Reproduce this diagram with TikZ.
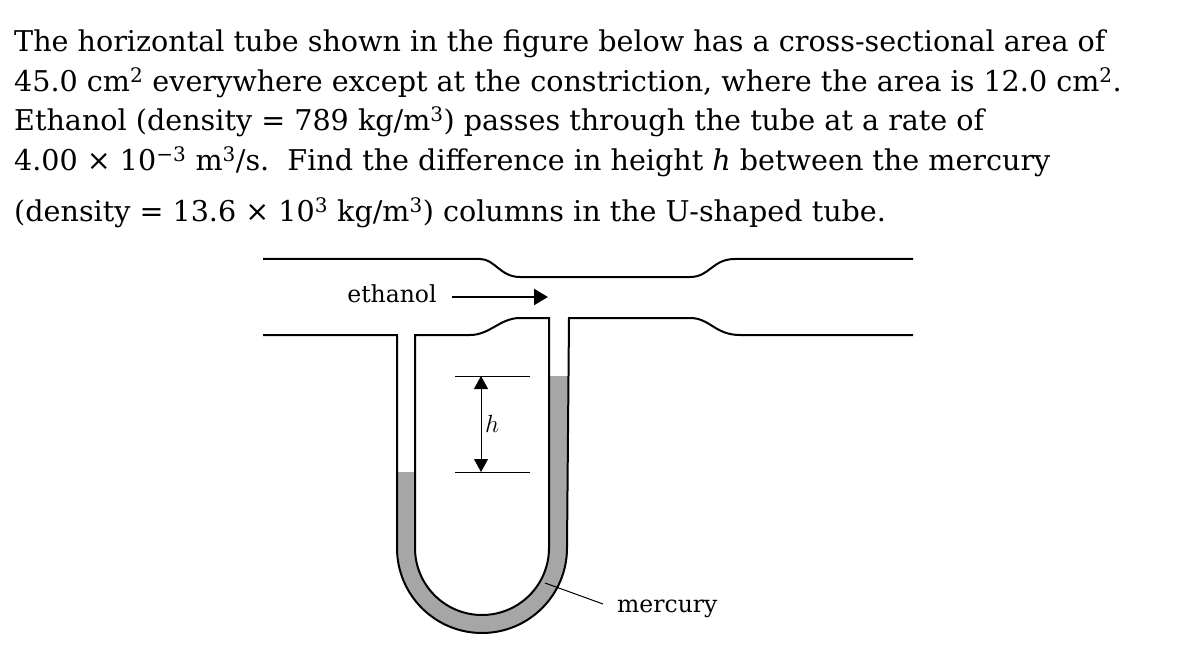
\documentclass[tikz,border=0pt]{standalone}
\usepackage{fontspec}
\setmainfont{DejaVu Serif}
\usetikzlibrary{arrows.meta}
\begin{document}
\begin{tikzpicture}[x=1pt,y=-1pt,
  txt/.style={anchor=base west,inner sep=0pt,font=\fontsize{28.6}{32}\selectfont},
  lbl/.style={inner sep=0pt,font=\fontsize{23.5}{27}\selectfont},
  wall/.style={line width=2pt},
  thin/.style={line width=1pt}]
\useasboundingbox (0,0) rectangle (1181,671);
\node[txt] (l1) at (14,52) {The horizontal tube shown in the figure below has a cross-sectional area of};
\node[txt] (l2) at (14,92) {45.0 cm\textsuperscript{2} everywhere except at the constriction, where the area is 12.0 cm\textsuperscript{2}.};
\node[txt] (l3) at (14,131) {Ethanol (density = 789 kg/m\textsuperscript{3}) passes through the tube at a rate of};
\node[txt] (l4) at (14,171) {4.00 × 10\textsuperscript{−3} m\textsuperscript{3}/s.\ \ Find the difference in height \textit{h} between the mercury};
\node[txt] (l5) at (14,222) {(density = 13.6 × 10\textsuperscript{3} kg/m\textsuperscript{3}) columns in the U-shaped tube.};
% mercury fill
\fill[gray!70] (397,472) -- (397,548) arc[start angle=180,end angle=0,radius=85] -- (569,376) -- (549,376) -- (549,548) arc[start angle=0,end angle=180,radius=67] -- (415,472) -- cycle;
% pipe
\draw[wall] (263,259) -- (480,259) .. controls (495,259) and (500,277) .. (520,277) -- (690,277) .. controls (710,277) and (712,259) .. (735,259) -- (913,259);
\draw[wall] (263,335) -- (397,335) -- (397,548) arc[start angle=180,end angle=0,radius=85] -- (569,318) -- (690,318) .. controls (710,318) and (715,335) .. (740,335) -- (913,335);
\draw[wall] (415,335) -- (470,335) .. controls (490,335) and (500,318) .. (520,318) -- (549,318) -- (549,548) arc[start angle=0,end angle=180,radius=67] -- cycle;
% h
\coordinate (ht) at (481,376); \coordinate (hb) at (481,472);
\draw[thin] (455,376) -- (530,376); \draw[thin] (455,472) -- (530,472);
\draw[thin,{Triangle[length=13pt,width=14pt]}-{Triangle[length=13pt,width=14pt]}] (ht) -- (hb);
\node[lbl,anchor=west] (h) at (485,424) {$h$};
\node[lbl,anchor=base] (eth) at (392,302) {ethanol};
\coordinate (ea) at (452,297);
\draw[line width=2.5pt,-{Triangle[length=14pt,width=16pt]}] (ea) -- (548,297);
\node[lbl,anchor=base west] (hg) at (617,612) {mercury};
\coordinate (hgp) at (545,583);
\draw[thin] (hgp) -- (603,604);
\end{tikzpicture}
\end{document}
